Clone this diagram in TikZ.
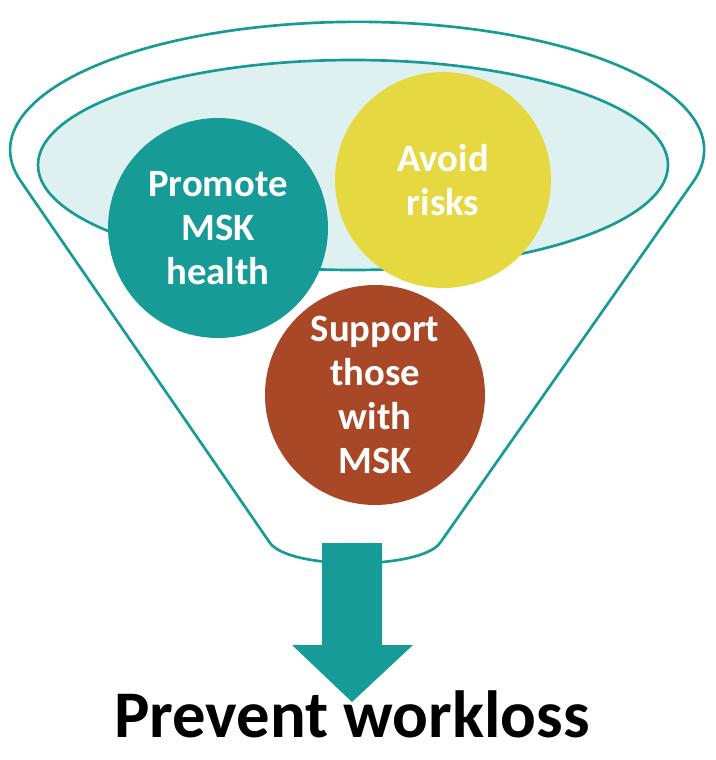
\documentclass[tikz,border=0pt]{standalone}
\usepackage{fontspec}
\setmainfont{Carlito}
\definecolor{funnelteal}{RGB}{22,155,150}
\definecolor{avoidyellow}{RGB}{230,216,64}
\definecolor{supportbrown}{RGB}{168,72,38}
\definecolor{rimfill}{RGB}{223,240,240}
\tikzset{every picture/.style={line width=0.75pt}}
\tikzset{
  circ/.style={circle, inner sep=0pt, text=white, align=center,
    font=\fontsize{29}{33}\selectfont\bfseries},
  rim/.style={draw=funnelteal, line width=2pt}
}
\begin{document}
\begin{tikzpicture}[x=0.75pt,y=0.75pt,yscale=-1,xscale=1]
\useasboundingbox (0,0) rectangle (715,760);

%Funnel outline
\draw [rim] (270,543) -- (22,183) arc[start angle=165, end angle=375, x radius=347, y radius=128]
  -- (440,543) .. controls (420,570) and (290,570) .. (270,543) ;
%Inner rim
\draw [rim, fill=rimfill] (353,165) ellipse [x radius=315, y radius=105] ;

% Circles
\node [circ, fill=funnelteal, minimum size=165pt] (promote) at (218,228) {Promote\\MSK\\health};
\node [circ, fill=avoidyellow, minimum size=162pt] (avoid) at (443,180) {Avoid\\risks};
\node [circ, fill=supportbrown, minimum size=165pt] (support) at (375,395) {Support\\those\\with\\MSK};

%Arrow
\fill [funnelteal] (322,543) -- (382,543) -- (382,645) -- (413,645) -- (352,702) -- (292,645) -- (322,645) -- cycle ;
\coordinate (tip) at (352,702);

% Text Node
\node [font=\fontsize{50}{56}\selectfont\bfseries] (result) at (352,714) {Prevent workloss};
\end{tikzpicture}
\end{document}
